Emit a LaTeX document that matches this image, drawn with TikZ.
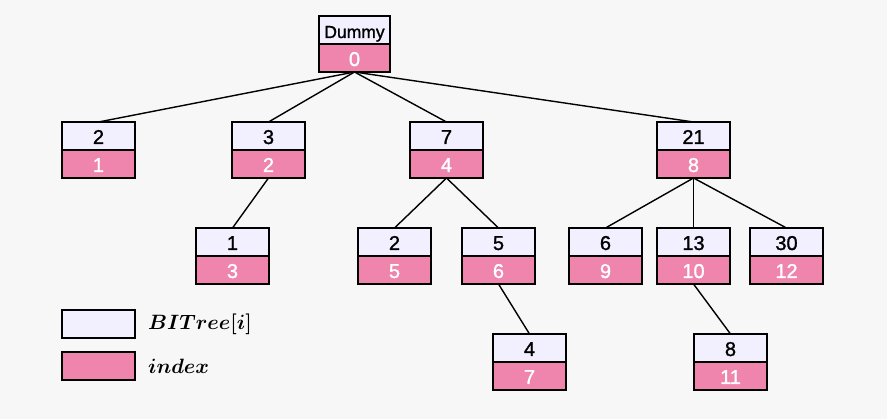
\documentclass[tikz,border=0pt]{standalone}
\usepackage{fontspec}
\usepackage{amsmath}
\usepackage{bm}
\setmainfont{Liberation Sans}
\newfontfamily\cellfont{Liberation Sans}[FakeBold=1.3]
\usetikzlibrary{positioning}

\definecolor{bitfill}{HTML}{F2F0FF}
\definecolor{idxfill}{HTML}{EF85AD}
\definecolor{bgcol}{HTML}{F7F7F7}

\tikzset{
  cell/.style={draw, line width=1.8pt, minimum width=73pt, minimum height=28pt,
    inner sep=0pt, outer sep=0pt, text height=16pt, text depth=0pt,
    font=\fontsize{20}{22}\cellfont},
  val/.style={cell, fill=bitfill, anchor=north},
  idx/.style={cell, fill=idxfill, text=white},
  edge/.style={line width=1.4pt},
  keytext/.style={inner sep=0pt, font=\fontsize{21}{24}\selectfont},
}

\begin{document}
\begin{tikzpicture}[x=1pt,y=-1pt]
  \fill[bgcol] (0,0) rectangle (887,419);
  \useasboundingbox (0,0) rectangle (887,419);

  % root
  \node[val, minimum width=71pt, font=\fontsize{17.5}{19}\cellfont] (v0) at (354.5,16) {Dummy};
  \node[idx, minimum width=71pt, below=0pt of v0] (i0) {0};

  % tree nodes: index/x/top/value
  \foreach \n/\x/\y/\v in {1/98.5/122/2, 2/268.5/122/3, 4/446.5/122/7, 8/693.5/122/21,
      3/232.5/228/1, 5/394.5/228/2, 6/498.5/228/5, 9/605.5/228/6, 10/693.5/228/13,
      12/786.5/228/30, 7/529.5/334/4, 11/730.5/334/8} {
    \node[val] (v\n) at (\x,\y) {\v};
    \node[idx, below=0pt of v\n] (i\n) {\n};
  }

  % parent/child
  \foreach \p/\c in {0/1, 0/2, 0/4, 0/8, 2/3, 4/5, 4/6, 6/7, 8/9, 8/10, 8/12, 10/11}
    \draw[edge] (i\p.south) -- (v\c.north);

  % legend
  \node[cell, fill=bitfill] (keyval) at (98.5,324) {};
  \node[cell, fill=idxfill] (keyidx) at (98.5,366) {};
  \node[keytext, right=13pt of keyval] (keyvaltxt) {$\boldsymbol{BITree[i]}$};
  \node[keytext, right=13pt of keyidx] (keyidxtxt) {$\boldsymbol{index}$};
\end{tikzpicture}
\end{document}
